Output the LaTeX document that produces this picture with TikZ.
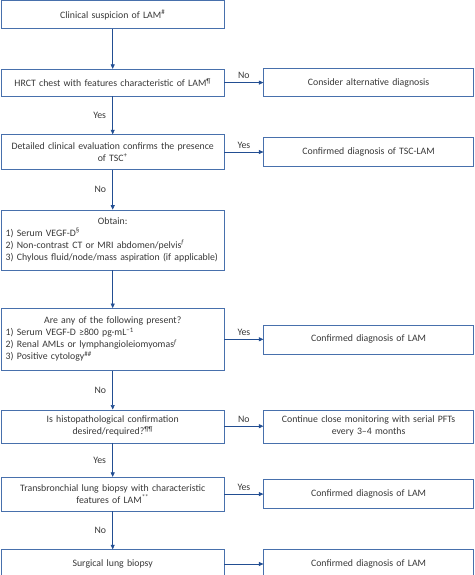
\documentclass[tikz,border=0pt]{standalone}
\usepackage{fontspec}
\setmainfont{Carlito}
\usetikzlibrary{positioning, arrows.meta}
\definecolor{boxblue}{RGB}{72,112,172}
\definecolor{arrowblue}{RGB}{34,78,146}
\definecolor{textgray}{RGB}{55,55,55}

\begin{document}
\begin{tikzpicture}[
    x=1pt, y=-1pt,
    lbox/.style={rectangle, draw=boxblue, minimum width=223pt, text width=214pt,
                 align=center, inner xsep=4.5pt, inner ysep=2pt, text=textgray,
                 font=\fontsize{9.8}{12}\selectfont},
    rbox/.style={lbox, minimum width=210pt, text width=201pt},
    arrow/.style={-{Triangle[length=4.5pt,width=4pt]}, draw=arrowblue, semithick},
    lab/.style={text=textgray, font=\fontsize{9.8}{11}\selectfont},
    node distance=38pt and 39pt
]
\useasboundingbox (0,0) rectangle (474,575);

% Main column
\node[lbox, anchor=north west, minimum height=28pt] (suspicion) at (1,0.5)
    {Clinical suspicion of LAM\textsuperscript{\#}};
\node[lbox, minimum height=27pt, below=40pt of suspicion] (hrct)
    {HRCT chest with features characteristic of LAM\textsuperscript{¶}};
\node[lbox, minimum height=35pt, below=of hrct] (tsc)
    {Detailed clinical evaluation confirms the presence\\of TSC\textsuperscript{+}};
\node[lbox, minimum height=60pt, align=left, below=40pt of tsc] (obtain)
    {\hfil Obtain:\\
     1) Serum VEGF-D\textsuperscript{§}\\
     2) Non-contrast CT or MRI abdomen/pelvis\textsuperscript{\textit{f}}\\
     \mbox{3) Chylous fluid/node/mass aspiration (if applicable)}};
\node[lbox, minimum height=62pt, align=left, below=of obtain] (present)
    {\hfil Are any of the following present?\\
     1) Serum VEGF-D ≥800 pg·mL\textsuperscript{−1}\\
     2) Renal AMLs or lymphangioleiomyomas\textsuperscript{\textit{f}}\\
     3) Positive cytology\textsuperscript{\#\#}};
\node[lbox, minimum height=33pt, below=39pt of present] (histo)
    {Is histopathological confirmation\\desired/required?\textsuperscript{¶¶}};
\node[lbox, minimum height=34pt, below=34pt of histo] (tbb)
    {Transbronchial lung biopsy with characteristic\\features of LAM\textsuperscript{**}};
\node[lbox, minimum height=29pt, below=of tbb] (surgical)
    {Surgical lung biopsy};

% Outcomes
\node[rbox, minimum height=28pt, right=of hrct] (altdx)
    {Consider alternative diagnosis};
\node[rbox, minimum height=29pt, right=of tsc] (tsclam)
    {Confirmed diagnosis of TSC-LAM};
\node[rbox, minimum height=29pt, right=of present] (lam1)
    {Confirmed diagnosis of LAM};
\node[rbox, minimum height=33pt, right=of histo] (monitor)
    {Continue close monitoring with serial PFTs\\every 3–4 months};
\node[rbox, minimum height=29pt, right=of tbb] (lam2)
    {Confirmed diagnosis of LAM};
\node[rbox, minimum height=29pt, right=of surgical] (lam3)
    {Confirmed diagnosis of LAM};

% Main flow
\draw[arrow] (suspicion) -- (hrct);
\draw[arrow] (hrct) -- node[lab, left=3pt]{Yes} (tsc);
\draw[arrow] (tsc) -- node[lab, left=3pt]{No} (obtain);
\draw[arrow] (obtain) -- (present);
\draw[arrow] (present) -- node[lab, left=3pt]{No} (histo);
\draw[arrow] (histo) -- node[lab, left=3pt]{Yes} (tbb);
\draw[arrow] (tbb) -- node[lab, left=3pt]{No} (surgical);

% Side branches
\draw[arrow] (hrct) -- node[lab, above]{No} (altdx);
\draw[arrow] (tsc) -- node[lab, above]{Yes} (tsc -| tsclam.west);
\draw[arrow] (present) -- node[lab, above]{Yes} (present -| lam1.west);
\draw[arrow] (histo) -- node[lab, above]{No} (monitor);
\draw[arrow] (tbb) -- node[lab, above]{Yes} (tbb -| lam2.west);
\draw[arrow] (surgical) -- (lam3);
\end{tikzpicture}
\end{document}
